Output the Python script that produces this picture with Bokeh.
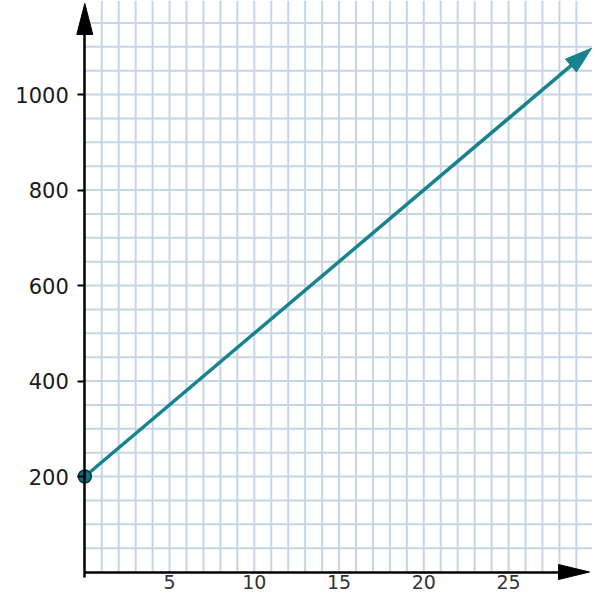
import numpy as np
from bokeh.plotting import figure
from bokeh.models import LinearAxis, FixedTicker, Range1d
from bokeh.embed import file_html
from bokeh.resources import INLINE

# ---- data ----
line_x = [0, 29.9]
line_y = [200, 1097]
point_x = [0]
point_y = [200]
x_ticks = [5, 10, 15, 20, 25]
y_ticks = [200, 400, 600, 800, 1000]
x_grid_step = 1
y_grid_step = 50

# ---- layout constants ----
W, H = 592, 592
X0, SX = 84.3, 16.95      # px of x=0, px per x unit
Y0, SY = 571.5, 0.4775    # px (from top) of y=0, px per y unit
x_start, x_end = -X0 / SX, (W - X0) / SX
y_start, y_end = (Y0 - H) / SY, Y0 / SY
sx, sy = SX, SY

TEAL = "#17838f"
GRID = "#c6d6e4"

p = figure(width=W, height=H, output_backend="svg", toolbar_location=None,
           x_range=Range1d(x_start, x_end), y_range=Range1d(y_start, y_end),
           x_axis_type=None, y_axis_type=None,
           min_border=0, min_border_left=0, min_border_right=0,
           min_border_top=0, min_border_bottom=0)
p.outline_line_color = None
p.background_fill_color = "white"
p.border_fill_color = "white"
p.xgrid.visible = False
p.ygrid.visible = False

# grid (only in the first quadrant)
gx = np.arange(x_grid_step, x_end, x_grid_step)
gy = np.arange(y_grid_step, y_end, y_grid_step)
p.segment(x0=gx, y0=np.zeros(len(gx)), x1=gx, y1=np.full(len(gx), y_end),
          line_color=GRID, line_width=2)
p.segment(x0=np.zeros(len(gy)), y0=gy, x1=np.full(len(gy), x_end), y1=gy,
          line_color=GRID, line_width=2)

# axes arrows geometry (px)
x_tip = (589 - X0) / sx
x_head_len, x_head_hw = 31, 7.5
y_tip = (Y0 - 3) / sy
y_head_len, y_head_hw = 31, 8

yaxis = LinearAxis(fixed_location=0, bounds=(-5 / sy, y_tip - y_head_len / sy + 2),
                   ticker=FixedTicker(ticks=y_ticks))
yaxis.axis_line_width = 2.5
yaxis.axis_line_color = "black"
yaxis.major_tick_out = 7
yaxis.major_tick_in = 0
yaxis.major_tick_line_width = 2
yaxis.minor_tick_out = 0
yaxis.minor_tick_in = 0
yaxis.major_label_text_font = "DejaVu Sans"
yaxis.major_label_text_font_size = "21px"
yaxis.major_label_text_color = "#1a1a1a"
yaxis.major_label_standoff = 9
p.add_layout(yaxis, "left")

xaxis = LinearAxis(fixed_location=0, bounds=(0, x_tip - x_head_len / sx + 0.1),
                   ticker=FixedTicker(ticks=x_ticks))
xaxis.axis_line_width = 2.5
xaxis.axis_line_color = "black"
xaxis.major_tick_out = 0
xaxis.major_tick_in = 0
xaxis.minor_tick_out = 0
xaxis.minor_tick_in = 0
xaxis.major_label_text_font = "DejaVu Sans"
xaxis.major_label_text_font_size = "19px"
xaxis.major_label_text_color = "#333333"
xaxis.major_label_standoff = 3
p.add_layout(xaxis, "below")

# axis arrowheads
p.patch(x=[x_tip, x_tip - x_head_len / sx, x_tip - x_head_len / sx],
        y=[0, x_head_hw / sy, -x_head_hw / sy], fill_color="black", line_color="black")
p.patch(x=[0, y_head_hw / sx, -y_head_hw / sx],
        y=[y_tip, y_tip - y_head_len / sy, y_tip - y_head_len / sy],
        fill_color="black", line_color="black")

# the line with arrowhead
dxp = (line_x[-1] - line_x[-2]) * sx
dyp = (line_y[-1] - line_y[-2]) * sy
L = np.hypot(dxp, dyp)
ux, uy = dxp / L, dyp / L
nx, ny = -uy, ux
head_len, head_hw = 27, 8.5
bx = line_x[-1] - head_len * ux / sx
by = line_y[-1] - head_len * uy / sy
p.line(x=[line_x[0], bx + 2 * ux / sx], y=[line_y[0], by + 2 * uy / sy],
       line_color=TEAL, line_width=3.5)
p.patch(x=[line_x[-1], bx + head_hw * nx / sx, bx - head_hw * nx / sx],
        y=[line_y[-1], by + head_hw * ny / sy, by - head_hw * ny / sy],
        fill_color=TEAL, line_color=TEAL)

p.scatter(x=point_x, y=point_y, size=13, fill_color="#10717d",
          line_color="#0b3a41", line_width=1.5)

open("out.html", "w").write(file_html(p, INLINE))
